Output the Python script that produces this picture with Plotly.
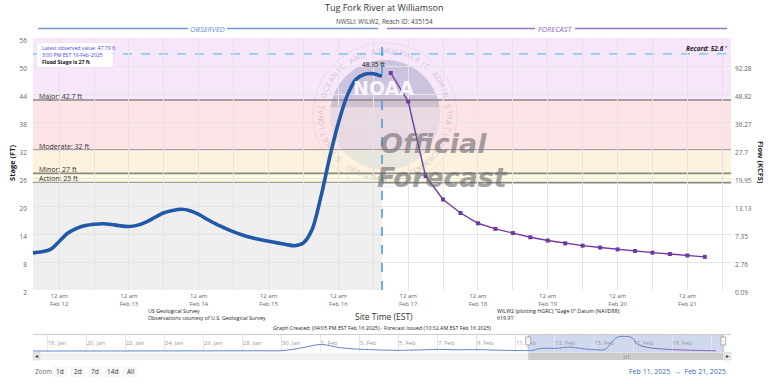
import math
import pandas as pd
import plotly.graph_objects as go

# ---------------- data ----------------
title = "Tug Fork River at Williamson"
subtitle = "NWSLI: WILW2, Reach ID: 435154"

obs_start = "2025-02-11 15:00"
obs_stage = [9.95, 10.2, 10.7, 12.4, 14.2, 15.2, 15.8, 16.1, 16.2, 16.05, 15.75,
             15.6, 15.9, 16.6, 17.6, 18.55, 19.05, 19.3, 19.0,
             18.2, 17.1, 16.1, 15.25, 14.45, 13.8, 13.25, 12.8,
             12.45, 12.1, 11.75, 11.5, 12.1, 15.0, 22.0, 30.4,
             37.8, 43.6, 47.1, 48.25, 48.35, 47.79]

fcst_start = "2025-02-16 18:00"
fcst_stage = [48.5, 42.4, 26.4, 21.4, 18.5, 16.3, 15.1, 14.2, 13.3, 12.6,
              12.0, 11.5, 11.1, 10.7, 10.35, 10.0, 9.7, 9.4, 9.1]

nav_pre_start = "2025-01-17"
nav_pre_stage = [8.6, 8.6, 8.7, 8.7, 8.8, 8.8, 8.9, 8.9, 9.0, 9.0, 9.1, 9.2, 9.3,
                 9.6, 17.0, 26.5, 17.5, 13.5, 11.5, 10.5, 11.5, 13.0, 12.0, 12.5,
                 11.0, 10.0]

stage_ticks = [2, 8, 14, 20, 26, 32, 38, 44, 50, 56]
flow_ticks = [2, 8, 14, 20, 26, 32, 38, 44, 50]
flow_labels = ["0.09", "2.76", "7.35", "13.13", "19.95", "27.7", "36.27", "48.82", "92.28"]

flood_names = ["Action", "Minor", "Moderate", "Major"]
flood_levels = [25, 27, 32, 42.7]
flood_colors = ["#fdfbe0", "#fdf2dd", "#fde3e5", "#f8e6fa"]
record_stage = 52.6
flood_stage = 27
now_time = "2025-02-16 15:00"
x_range = ["2025-02-11 15:00", "2025-02-21 15:00"]
y_range = [2, 56]
nav_range = ["2025-01-17 06:00", "2025-02-22 00:30"]
nav_y_range = [6, 52]

obs_times = pd.date_range(obs_start, periods=len(obs_stage), freq="3h")
fcst_times = pd.date_range(fcst_start, periods=len(fcst_stage), freq="6h")
nav_pre_times = pd.date_range(nav_pre_start, periods=len(nav_pre_stage), freq="D")

FONT = "Open Sans"
OBS_COLOR = "#2158a8"
FC_COLOR = "#6f3aa0"


# pixel -> paper helpers (plot area: x 33..731, paper y from 360 up to 38)
def px(x):
    return (x - 33) / 698.0


def py(y):
    return (360 - y) / 322.0


shapes = []
annotations = []


def ann(x, y, text, size, color, xanchor="center", yanchor="middle", family=FONT, **kw):
    annotations.append(dict(x=px(x), y=py(y), xref="paper", yref="paper", text=text,
                            showarrow=False, xanchor=xanchor, yanchor=yanchor,
                            font=dict(family=family, size=size, color=color), **kw))


fig = go.Figure()

# main observed & forecast
fig.add_trace(go.Scatter(x=obs_times, y=obs_stage, mode="lines",
                         line=dict(color=OBS_COLOR, width=3.6, shape="spline", smoothing=0.8),
                         xaxis="x", yaxis="y", hoverinfo="skip", showlegend=False))
fig.add_trace(go.Scatter(x=fcst_times, y=fcst_stage, mode="lines+markers",
                         line=dict(color=FC_COLOR, width=1.4),
                         marker=dict(symbol="square", size=4, color=FC_COLOR),
                         xaxis="x", yaxis="y", hoverinfo="skip", showlegend=False))
# invisible trace to activate right axis
fig.add_trace(go.Scatter(x=[obs_times[0]], y=[obs_stage[0]], mode="markers",
                         marker=dict(opacity=0), xaxis="x", yaxis="y2",
                         hoverinfo="skip", showlegend=False))

# navigator
nav_x = list(nav_pre_times) + list(obs_times)
nav_y = list(nav_pre_stage) + list(obs_stage)
fig.add_trace(go.Scatter(x=nav_x, y=nav_y, mode="lines",
                         line=dict(color="#5b84cc", width=1, shape="spline", smoothing=0.8),
                         xaxis="x2", yaxis="y3", hoverinfo="skip", showlegend=False))
fig.add_trace(go.Scatter(x=[obs_times[-1]] + list(fcst_times), y=[obs_stage[-1]] + list(fcst_stage),
                         mode="lines", line=dict(color="#8a62b8", width=1, shape="spline", smoothing=0.8),
                         xaxis="x2", yaxis="y3", hoverinfo="skip", showlegend=False))

# flood bands
levels_top = flood_levels[1:] + [y_range[1]]
for lo, hi, col in zip(flood_levels, levels_top, flood_colors):
    shapes.append(dict(type="rect", xref="x domain", yref="y", x0=0, x1=1, y0=lo, y1=hi,
                       fillcolor=col, line=dict(width=0), layer="below"))
# observed period grey band
shapes.append(dict(type="rect", xref="x", yref="y", x0=x_range[0], x1=now_time,
                   y0=y_range[0], y1=flood_levels[0], fillcolor="#efefef",
                   line=dict(width=0), layer="below"))

# NOAA watermark disc
cx, cy, r_in = 385, 115, 55


def circle_pts(cx, cy, r, a0, a1, n=60):
    pts = []
    for i in range(n + 1):
        a = math.radians(a0 + (a1 - a0) * i / n)
        pts.append((px(cx + r * math.cos(a)), py(cy - r * math.sin(a))))
    return pts


def poly_path(pts):
    return "M " + " L ".join(f"{a:.5f},{b:.5f}" for a, b in pts) + " Z"


shapes.append(dict(type="path", xref="paper", yref="paper", path=poly_path(circle_pts(cx, cy, r_in, 0, 360, 90)),
                   fillcolor="rgba(120,160,215,0.15)", line=dict(width=0), layer="below"))
shapes.append(dict(type="path", xref="paper", yref="paper", path=poly_path(circle_pts(cx, cy, r_in, 8, 172, 60)),
                   fillcolor="rgba(110,100,140,0.20)", line=dict(width=0), layer="below"))
shapes.append(dict(type="path", xref="paper", yref="paper", path=poly_path(circle_pts(cx, cy, 72, 0, 360, 90)),
                   fillcolor="rgba(255,255,255,0)", line=dict(width=0.8, color="rgba(160,160,170,0.22)"),
                   layer="below"))

# flood threshold lines
for lv in flood_levels:
    shapes.append(dict(type="line", xref="x domain", yref="y", x0=0, x1=1, y0=lv, y1=lv,
                       line=dict(color="#8f8686", width=1.6), layer="below"))
# record line
shapes.append(dict(type="line", xref="x domain", yref="y", x0=0, x1=1, y0=record_stage, y1=record_stage,
                   line=dict(color="#5cc6ef", width=1.3, dash="dash"), layer="below"))
# now line
shapes.append(dict(type="line", xref="x", yref="y domain", x0=now_time, x1=now_time, y0=0, y1=1,
                   line=dict(color="#3d9ad8", width=1.5, dash="dash"), layer="above"))

# ring text
top_text = "NATIONAL OCEANIC AND ATMOSPHERIC ADMINISTRATION"
bot_text = "U.S. DEPARTMENT OF COMMERCE"
r_txt = 64
ring_col = "rgba(150,150,155,0.38)"
n = len(top_text)
for i, ch in enumerate(top_text):
    a = 208 - (236 * i / (n - 1))
    ar = math.radians(a)
    ann(cx + r_txt * math.cos(ar), cy - r_txt * math.sin(ar), ch, 7.5, ring_col,
        family="DejaVu Sans", textangle=90 - a)
n = len(bot_text)
for i, ch in enumerate(bot_text):
    a = 215 + (110 * i / (n - 1))
    ar = math.radians(a)
    ann(cx + r_txt * math.cos(ar), cy - r_txt * math.sin(ar), ch, 7.5, ring_col,
        family="DejaVu Sans", textangle=270 - a)
ann(383, 88, "<b>NOAA</b>", 19, "rgba(255,255,255,0.85)", family="DejaVu Sans")
ann(433, 143, "<b><i>Official</i></b>", 27, "rgba(105,105,110,0.60)", family="DejaVu Sans")
ann(442, 177, "<b><i>Forecast</i></b>", 27, "rgba(105,105,110,0.60)", family="DejaVu Sans")

# flood labels
for nm, lv in zip(flood_names, flood_levels):
    annotations.append(dict(x=px(37), y=lv, xref="paper", yref="y", xanchor="left", yanchor="middle",
                            yshift=4, text=f"{nm}: {lv:g} ft", showarrow=False,
                            font=dict(family=FONT, size=7, color="#333")))
annotations.append(dict(x=px(729), y=record_stage, xref="paper", yref="y", xanchor="right",
                        yanchor="middle", yshift=5, text=f"<b><i>Record: {record_stage:g} '</i></b>",
                        showarrow=False, font=dict(family=FONT, size=6.5, color="#222")))

# peak label
imax = max(range(len(obs_stage)), key=lambda i: obs_stage[i])
annotations.append(dict(x=obs_times[imax], y=obs_stage[imax], xref="x", yref="y", xanchor="center",
                        yanchor="bottom", yshift=3, text=f"{obs_stage[imax]:.2f} ft", showarrow=False,
                        font=dict(family=FONT, size=6.5, color="#111")))

# latest observed box
shapes.append(dict(type="rect", xref="paper", yref="paper", x0=px(37), x1=px(113), y0=py(67), y1=py(43),
                   fillcolor="white", line=dict(width=0.5, color="rgba(0,0,0,0.05)"), layer="above"))
ann(40, 48.3, f"Latest observed value: {obs_stage[-1]:.2f} ft", 5.2, "#3f3fe0", xanchor="left")
ann(40, 55, "3:00 PM EST 16-Feb-2025", 5.2, "#3f3fe0", xanchor="left")
ann(40, 61.7, f"<b>Flood Stage is {flood_stage} ft</b>", 5.2, "#111", xanchor="left")

# title
ann(384, 8, title, 9, "#333")
ann(384, 21.5, subtitle, 6.3, "#444")

# OBSERVED / FORECAST header
for (a, b), col in [((38, 188), "#7396d6"), ((227, 378), "#7396d6"),
                    ((387, 535), "#9b72c2"), ((575, 727), "#9b72c2")]:
    shapes.append(dict(type="line", xref="paper", yref="paper", x0=px(a), x1=px(b), y0=py(28.5), y1=py(28.5),
                       line=dict(color=col, width=1.6)))
ann(207.5, 28.5, "<i>OBSERVED</i>", 7.5, "#6a8fd0")
ann(555, 28.5, "<i>FORECAST</i>", 7.5, "#9466bf")

# axis titles
ann(12, 163, "<b>Stage (FT)</b>", 7.5, "#222", textangle=-90)
ann(761, 163, "<b>Flow (KCFS)</b>", 7.5, "#222", textangle=90)

# footer texts
ann(146, 314.5, "US Geological Survey<br>Observations courtesy of U.S. Geological Survey", 5.3, "#222",
    xanchor="left", align="left")
ann(384, 316.5, "Site Time (EST)", 8.5, "#333")
ann(495, 314.5, "WILW2 (plotting HGRC) \"Gage 0\" Datum (NAVD88):<br>619.91'", 5.3, "#222",
    xanchor="left", align="left")
ann(382, 327.5, "Graph Created: (04:05 PM EST Feb 16 2025) - Forecast Issued (10:32 AM EST Feb 16 2025)",
    5.3, "#222")

# navigator decorations
shapes.append(dict(type="rect", xref="x2", yref="paper", x0=x_range[0], x1=x_range[1],
                   y0=py(352), y1=py(335), fillcolor="#cfd8ed", line=dict(width=0), layer="below"))
shapes.append(dict(type="line", xref="paper", yref="paper", x0=0, x1=1, y0=py(334.5), y1=py(334.5),
                   line=dict(color="#cccccc", width=1)))
for xv in x_range:
    shapes.append(dict(type="line", xref="x2", yref="paper", x0=xv, x1=xv, y0=py(352), y1=py(335),
                       line=dict(color="#aab4cc", width=0.8)))
# handles (pixel-width rectangles)
for xv in x_range:
    shapes.append(dict(type="rect", xref="x2", yref="paper", xsizemode="pixel", xanchor=xv,
                       x0=-2.5, x1=2.5, y0=py(345), y1=py(337),
                       fillcolor="#f2f2f2", line=dict(width=0.7, color="#999999")))
# scrollbar
shapes.append(dict(type="rect", xref="paper", yref="paper", x0=0, x1=1, y0=py(360), y1=py(352.5),
                   fillcolor="#f2f2f2", line=dict(width=0)))
shapes.append(dict(type="rect", xref="x2", yref="paper", x0=x_range[0], x1=x_range[1],
                   y0=py(360), y1=py(352.5), fillcolor="#cccccc", line=dict(width=0)))
for a, b in [(33, 40), (724, 731)]:
    shapes.append(dict(type="rect", xref="paper", yref="paper", x0=px(a), x1=px(b), y0=py(360), y1=py(352.5),
                       fillcolor="#e6e6e6", line=dict(width=0.5, color="#cccccc")))
ann(36.5, 356.3, "◂", 6, "#333")
ann(727.5, 356.3, "▸", 6, "#333")
ann(626, 356.3, "|||", 4, "#333")

# zoom buttons
ann(33, 371.5, "Zoom", 6.3, "#666", xanchor="left")
for lbl, a, b in [("1d", 52, 67), ("2d", 70, 85), ("7d", 88, 102), ("14d", 105, 120), ("All", 123, 138)]:
    shapes.append(dict(type="rect", xref="paper", yref="paper", x0=px(a), x1=px(b), y0=py(377), y1=py(366.5),
                       fillcolor="#f7f7f7", line=dict(width=0)))
    ann((a + b) / 2, 371.5, lbl, 6.5, "#333")
ann(728, 371.5, "Feb 11, 2025  \u2192  Feb 21, 2025", 7, "#3567c0", xanchor="right")

# x ticks main: 12-hour gridlines, labels on midnights
tick_times = pd.date_range("2025-02-11 12:00", "2025-02-21 12:00", freq="12h")
tick_text = [f"12 am<br>{t.strftime('%b')} {t.day}" if t.hour == 0 else "" for t in tick_times]
nav_ticks = pd.date_range("2025-01-18", "2025-02-21", freq="2D")
nav_text = [f"{t.day}. {t.strftime('%b')}" for t in nav_ticks]

fig.update_layout(
    width=768, height=384,
    margin=dict(l=33, r=37, t=38, b=24),
    paper_bgcolor="white", plot_bgcolor="white",
    font=dict(family=FONT),
    showlegend=False,
    shapes=shapes, annotations=annotations,
    xaxis=dict(type="date", range=x_range, domain=[0, 1], anchor="y",
               tickvals=tick_times, ticktext=tick_text, ticks="",
               tickfont=dict(size=6, color="#666"), showgrid=True, gridcolor="#e4e4e4",
               gridwidth=1, zeroline=False, showline=False, ticklabelstandoff=1),
    yaxis=dict(range=y_range, domain=[py(290), 1], tickvals=stage_ticks, ticks="",
               tickfont=dict(size=6.5, color="#666"), showgrid=True, gridcolor="#e4e4e4",
               zeroline=False, ticklabelstandoff=5, ticklabelshift=3),
    yaxis2=dict(range=y_range, overlaying="y", side="right", tickvals=flow_ticks, ticktext=flow_labels,
                ticks="", tickfont=dict(size=6.5, color="#666"), showgrid=False, zeroline=False,
                ticklabelstandoff=3, ticklabelshift=3),
    xaxis2=dict(type="date", range=nav_range, domain=[0, 1], anchor="y3",
                tickvals=nav_ticks, ticktext=nav_text, ticks="",
                ticklabelposition="inside right",
                tickfont=dict(size=6, color="#999"), showgrid=True, gridcolor="#e6e6e6",
                zeroline=False, showline=False),
    yaxis3=dict(range=nav_y_range, domain=[py(352), py(335)], showticklabels=False,
                showgrid=False, zeroline=False, ticks=""),
)

fig.write_html("out.html")
